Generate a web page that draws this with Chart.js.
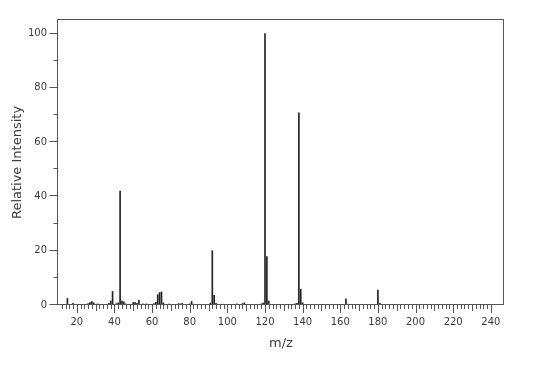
<!DOCTYPE html>
<html>
<head>
<meta charset="utf-8">
<script src="https://cdn.jsdelivr.net/npm/chart.js@4.4.1/dist/chart.umd.min.js"></script>
<style>
  html, body { margin: 0; padding: 0; background: #fff; }
  #wrap { width: 536px; height: 374px; }
</style>
</head>
<body>
<div id="wrap"><canvas id="ms" width="536" height="374"></canvas></div>
<script>
// peaks (m/z, relative intensity)
const mz = [15, 18, 26, 27, 28, 29, 31, 37, 38, 39, 41, 42, 43, 44, 45, 46, 50, 51, 52, 53, 55, 57,
  61, 62, 63, 64, 65, 66, 69, 74, 75, 76, 80, 81, 82, 91, 92, 93, 94, 105, 108, 109, 118, 119,
  120, 121, 122, 136, 137, 138, 139, 140, 163, 164, 180, 181];
const intensity = [2.4, 0.6, 0.5, 0.9, 1.3, 0.8, 0.4, 0.6, 1.5, 5.0, 0.5, 0.8, 42, 1.4, 1.2, 0.4, 1.0, 0.9, 0.6, 1.7, 0.4, 0.4,
  0.5, 1.0, 3.8, 4.6, 4.8, 0.8, 0.3, 0.5, 0.4, 0.6, 0.4, 1.3, 0.3, 0.7, 20, 3.6, 0.6, 0.4, 0.5, 0.8, 0.4, 0.7,
  100, 17.8, 1.5, 0.4, 0.6, 70.8, 5.8, 0.8, 2.3, 0.3, 5.5, 0.6];
const xTicks = [20, 40, 60, 80, 100, 120, 140, 160, 180, 200, 220, 240];
const yTicks = [0, 20, 40, 60, 80, 100];

const axisColor = "#555";
const textColor = "#3a3a3a";

// frame plus major / minor tick marks
const tickMarks = {
  id: "tickMarks",
  afterDraw(chart) {
    const { ctx, chartArea: a, scales: { x, y } } = chart;
    ctx.save();
    ctx.strokeStyle = axisColor;
    ctx.lineWidth = 1;
    ctx.strokeRect(a.left - 0.5, a.top - 0.5, a.right - a.left, a.bottom - a.top);
    ctx.beginPath();
    for (let v = 0; v <= 100; v += 10) {
      const py = Math.round(y.getPixelForValue(v)) - 0.5;
      ctx.moveTo(a.left - 0.5, py);
      ctx.lineTo(a.left - (v % 20 ? 4.5 : 8.5), py);
    }
    for (let m = 12; m <= 240; m += 2) {
      const px = Math.round(x.getPixelForValue(m)) + 0.5;
      const len = m % 20 === 0 ? 8 : m % 10 === 0 ? 6 : 4;
      ctx.moveTo(px, a.bottom - 0.5);
      ctx.lineTo(px, a.bottom + len);
    }
    ctx.stroke();
    ctx.restore();
  }
};

new Chart(document.getElementById("ms"), {
  type: "bar",
  data: {
    datasets: [{
      data: mz.map((m, i) => ({ x: m, y: intensity[i] })),
      backgroundColor: "#222",
      borderWidth: 0,
      barThickness: 1
    }]
  },
  options: {
    responsive: false,
    animation: false,
    devicePixelRatio: 1,
    layout: { padding: { top: 20, right: 32, left: 0, bottom: 0 } },
    plugins: { legend: { display: false }, tooltip: { enabled: false } },
    font: { family: "DejaVu Sans" },
    scales: {
      x: {
        type: "linear",
        min: 10,
        max: 247,
        offset: false,
        grid: { display: false, drawTicks: false, offset: false },
        border: { display: false },
        afterFit: s => { s.height = 69; },
        afterBuildTicks: s => { s.ticks = xTicks.map(v => ({ value: v })); },
        ticks: { color: textColor, font: { family: "DejaVu Sans", size: 10 }, padding: 11, maxRotation: 0, autoSkip: false },
        title: { display: true, text: "m/z", color: textColor, font: { family: "DejaVu Sans", size: 13 }, padding: { top: 0, bottom: 23 } }
      },
      y: {
        min: 0,
        max: 105,
        grid: { display: false, drawTicks: false },
        border: { display: false },
        afterFit: s => { s.width = 58; },
        afterBuildTicks: s => { s.ticks = yTicks.map(v => ({ value: v })); },
        ticks: { color: textColor, font: { family: "DejaVu Sans", size: 10 }, padding: 11 },
        title: { display: true, text: "Relative Intensity", color: textColor, font: { family: "DejaVu Sans", size: 13 }, padding: { top: 10, bottom: 0 } }
      }
    }
  },
  plugins: [tickMarks]
});
</script>
</body>
</html>
